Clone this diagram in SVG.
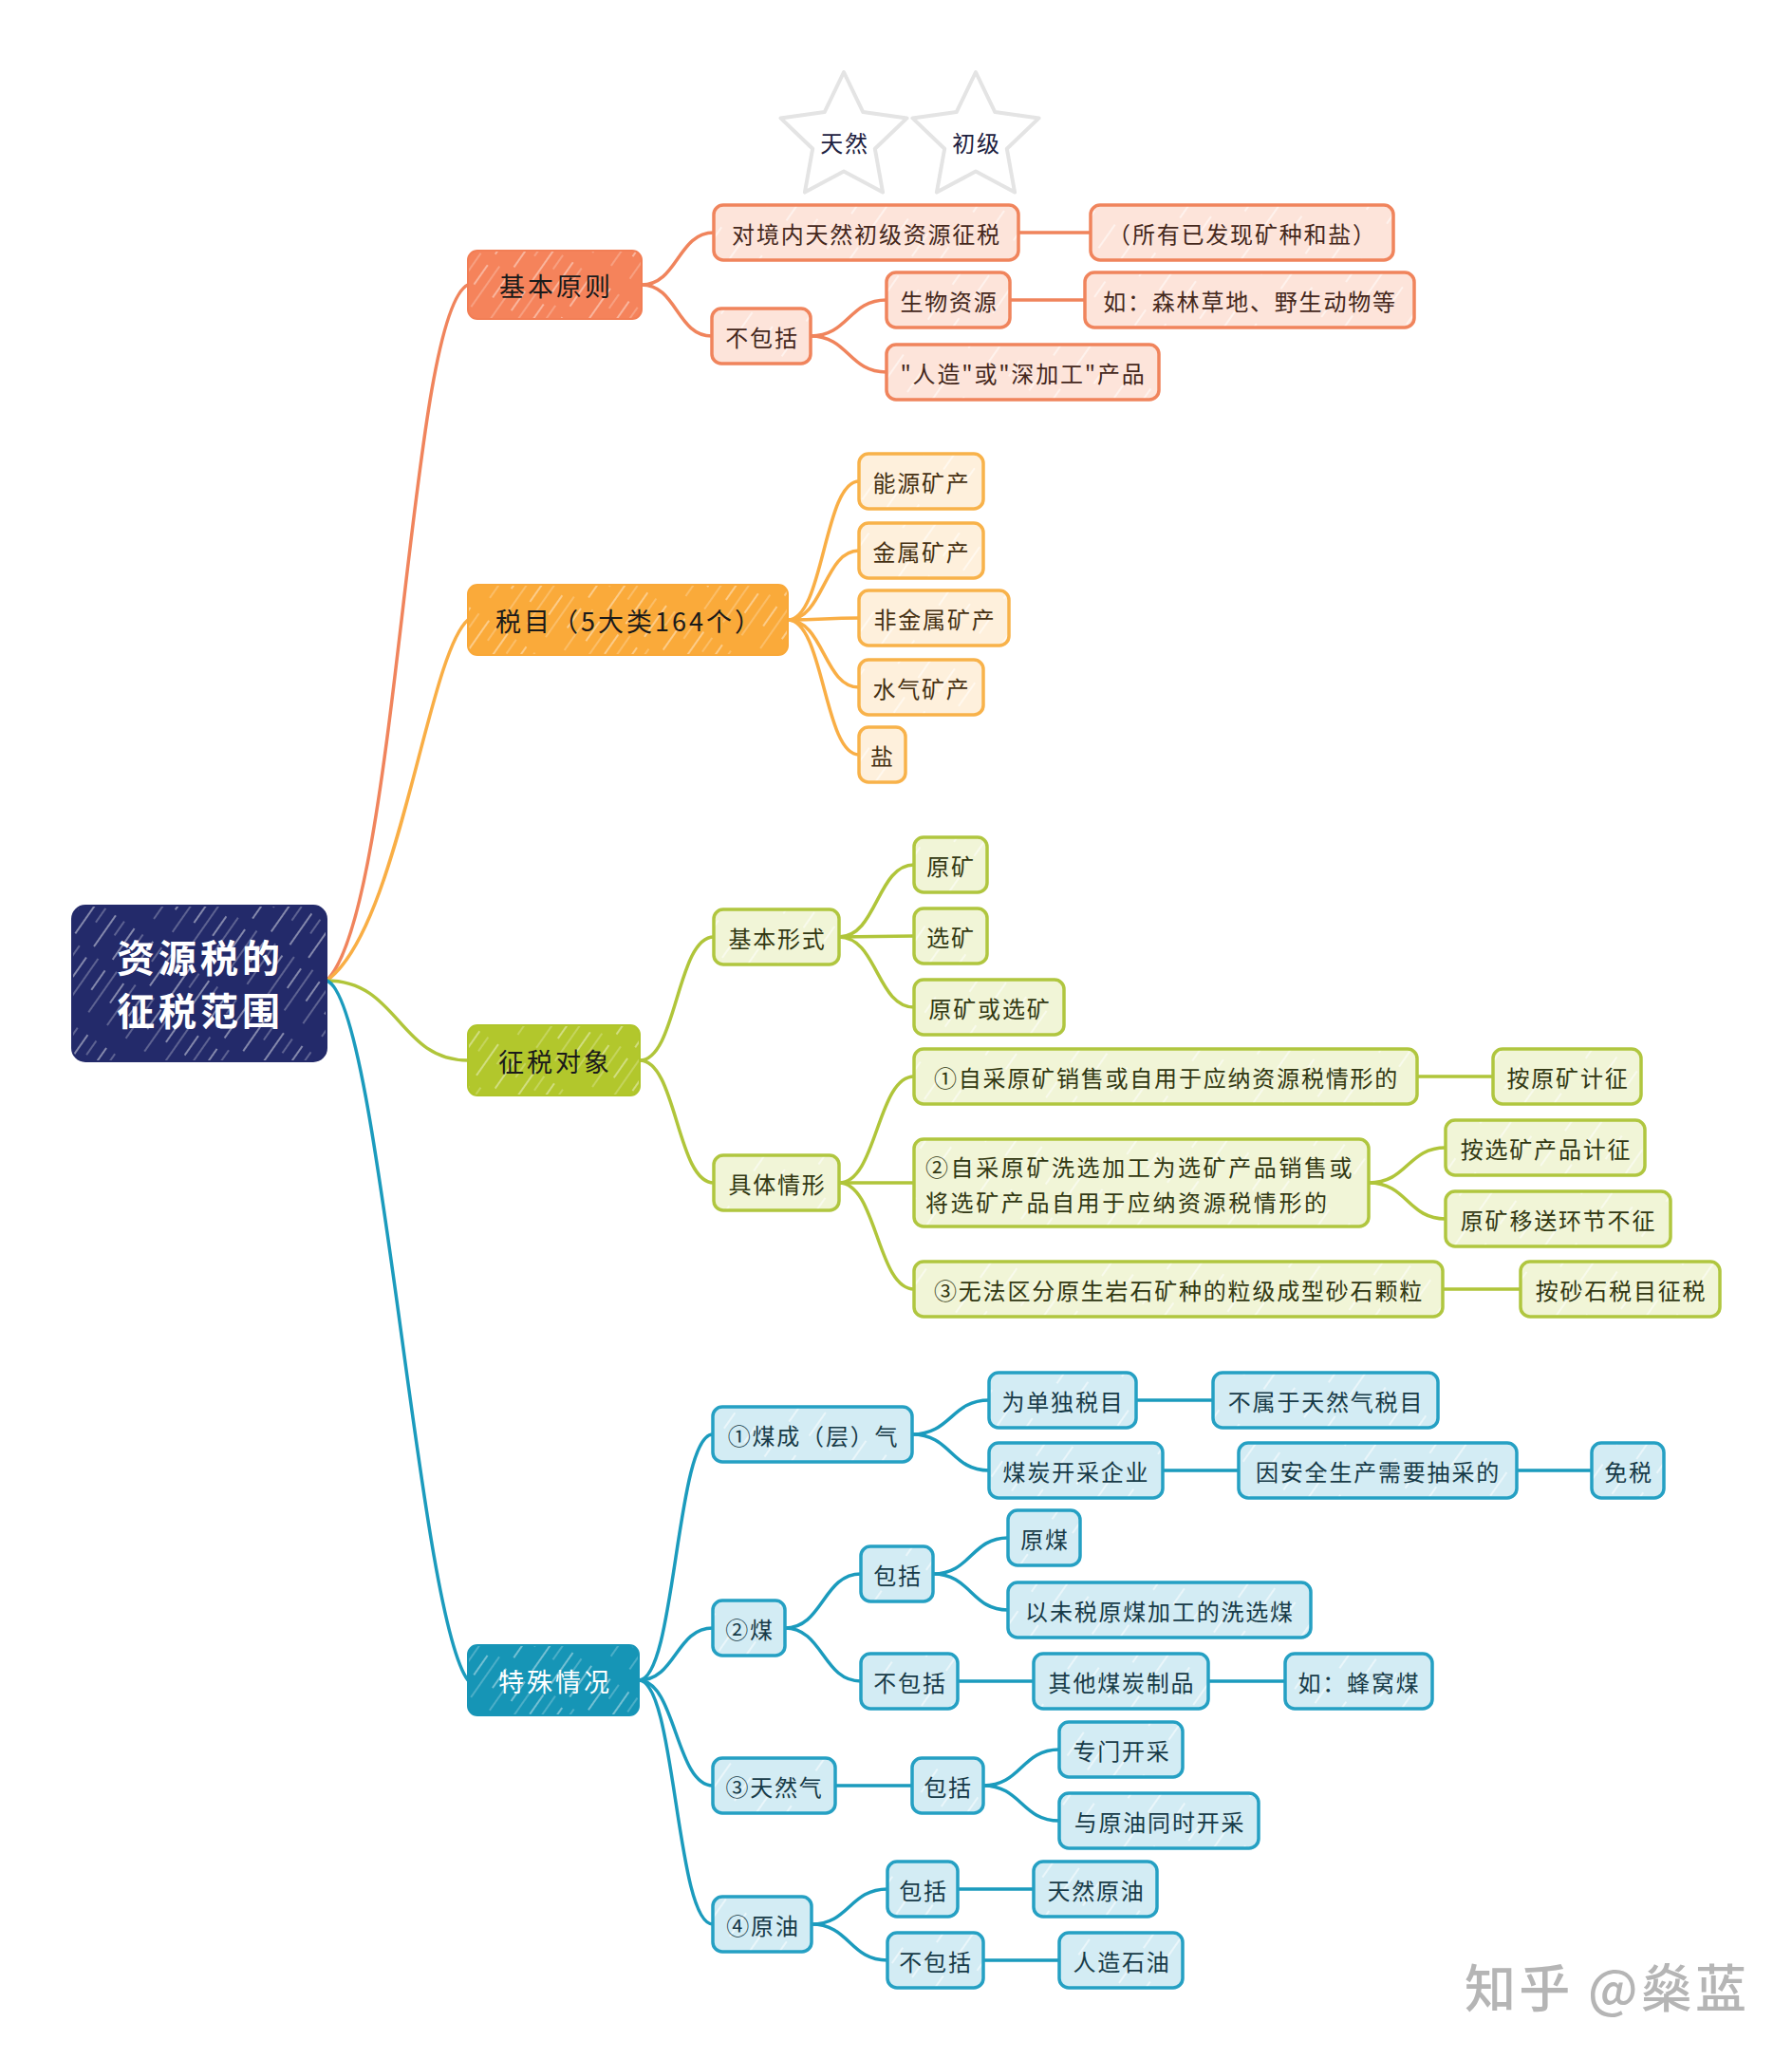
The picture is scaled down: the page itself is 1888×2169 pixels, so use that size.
<svg xmlns="http://www.w3.org/2000/svg" width="1888" height="2169" viewBox="0 0 1888 2169">
<defs>
<style>
.t{font-family:"Noto Sans CJK SC","Noto Sans",sans-serif;font-size:24px;letter-spacing:1.8px;text-anchor:middle;dominant-baseline:central}
.tl{text-anchor:start}
.tm{font-size:27px;letter-spacing:3px;fill:#1a1a1a}
.tr{font-size:40px;font-weight:700;letter-spacing:4px;fill:#ffffff}
.b{stroke-width:3.5}
.m .b{stroke-width:2}
.red .b{fill:url(#p-sred);stroke:#F0845C}
.red text{fill:#45281c}
.org .b{fill:url(#p-sorg);stroke:#F8B24A}
.org text{fill:#463112}
.grn .b{fill:url(#p-sgrn);stroke:#B0C63F}
.grn text{fill:#323812}
.tea .b{fill:url(#p-stea);stroke:#25A0C3}
.tea text{fill:#173b48}
.m.red .b{fill:url(#p-mred);stroke:#F27E55}
.m.org .b{fill:url(#p-morg);stroke:#F9A838}
.m.grn .b{fill:url(#p-mgrn);stroke:#AFC52A}
.m.tea .b{fill:url(#p-mtea);stroke:#1795B7}
.m.tea text{fill:#ffffff}
.m.red text,.m.org text,.m.grn text{fill:#1a1a1a}
.c path{fill:none;stroke-width:3.5;stroke-linecap:round}
.c .cr{stroke:#F0845C}
.c .co{stroke:#F9AE45}
.c .cg{stroke:#B0C53A}
.c .ct{stroke:#1B9BBD}
.star{fill:#ffffff;stroke:#E4E4E4;stroke-width:4;stroke-linejoin:round}
.st{fill:#1d2140}
.wm{font-family:"Noto Sans CJK SC","Noto Sans",sans-serif;font-size:54px;font-weight:500;fill:#B5B5B5;dominant-baseline:central}
</style>
<pattern id="p-root" width="24" height="120" patternUnits="userSpaceOnUse" patternTransform="rotate(35)">
<rect width="24" height="120" fill="#232A6A"/>
<line x1="5" y1="0" x2="5" y2="120" stroke="#fff" stroke-opacity=".55" stroke-width="1.6" stroke-dasharray="40 14 25 41"/>
<line x1="16" y1="0" x2="16" y2="120" stroke="#fff" stroke-opacity=".4" stroke-width="1.3" stroke-dasharray="18 30 52 20"/>
</pattern>
<pattern id="p-mred" width="24" height="120" patternUnits="userSpaceOnUse" patternTransform="rotate(35)">
<rect width="24" height="120" fill="#F5835B"/>
<line x1="5" y1="0" x2="5" y2="120" stroke="#fff" stroke-opacity=".5" stroke-width="1.6" stroke-dasharray="40 14 25 41"/>
<line x1="16" y1="0" x2="16" y2="120" stroke="#fff" stroke-opacity=".35" stroke-width="1.3" stroke-dasharray="18 30 52 20"/>
</pattern>
<pattern id="p-morg" width="24" height="120" patternUnits="userSpaceOnUse" patternTransform="rotate(35)">
<rect width="24" height="120" fill="#FAAA3A"/>
<line x1="5" y1="0" x2="5" y2="120" stroke="#fff" stroke-opacity=".5" stroke-width="1.6" stroke-dasharray="40 14 25 41"/>
<line x1="16" y1="0" x2="16" y2="120" stroke="#fff" stroke-opacity=".35" stroke-width="1.3" stroke-dasharray="18 30 52 20"/>
</pattern>
<pattern id="p-mgrn" width="24" height="120" patternUnits="userSpaceOnUse" patternTransform="rotate(35)">
<rect width="24" height="120" fill="#B2C72C"/>
<line x1="5" y1="0" x2="5" y2="120" stroke="#fff" stroke-opacity=".5" stroke-width="1.6" stroke-dasharray="40 14 25 41"/>
<line x1="16" y1="0" x2="16" y2="120" stroke="#fff" stroke-opacity=".35" stroke-width="1.3" stroke-dasharray="18 30 52 20"/>
</pattern>
<pattern id="p-mtea" width="24" height="120" patternUnits="userSpaceOnUse" patternTransform="rotate(35)">
<rect width="24" height="120" fill="#1695B6"/>
<line x1="5" y1="0" x2="5" y2="120" stroke="#fff" stroke-opacity=".5" stroke-width="1.6" stroke-dasharray="40 14 25 41"/>
<line x1="16" y1="0" x2="16" y2="120" stroke="#fff" stroke-opacity=".35" stroke-width="1.3" stroke-dasharray="18 30 52 20"/>
</pattern>
<pattern id="p-sred" width="26" height="120" patternUnits="userSpaceOnUse" patternTransform="rotate(35)">
<rect width="26" height="120" fill="#FDE4DA"/>
<line x1="6" y1="0" x2="6" y2="120" stroke="#fff" stroke-opacity=".8" stroke-width="1.3" stroke-dasharray="30 25 20 45"/>
</pattern>
<pattern id="p-sorg" width="26" height="120" patternUnits="userSpaceOnUse" patternTransform="rotate(35)">
<rect width="26" height="120" fill="#FEF0DC"/>
<line x1="6" y1="0" x2="6" y2="120" stroke="#fff" stroke-opacity=".8" stroke-width="1.3" stroke-dasharray="30 25 20 45"/>
</pattern>
<pattern id="p-sgrn" width="26" height="120" patternUnits="userSpaceOnUse" patternTransform="rotate(35)">
<rect width="26" height="120" fill="#F1F5D7"/>
<line x1="6" y1="0" x2="6" y2="120" stroke="#fff" stroke-opacity=".8" stroke-width="1.3" stroke-dasharray="30 25 20 45"/>
</pattern>
<pattern id="p-stea" width="26" height="120" patternUnits="userSpaceOnUse" patternTransform="rotate(35)">
<rect width="26" height="120" fill="#D3ECF4"/>
<line x1="6" y1="0" x2="6" y2="120" stroke="#fff" stroke-opacity=".8" stroke-width="1.3" stroke-dasharray="30 25 20 45"/>
</pattern>
<polygon id="starShape" class="star" points="0,-70 20.3,-27.9 66.6,-21.6 32.8,10.7 41.1,56.6 0,34.5 -41.1,56.6 -32.8,10.7 -66.6,-21.6 -20.3,-27.9"/>
</defs>
<rect width="1888" height="2169" fill="#ffffff"/>

<g id="connectors" class="c">
<path class="cr" d="M344 1033 C420 960, 430 330, 493 300"/>
<path class="co" d="M344 1033 C420 980, 450 690, 493 653"/>
<path class="cg" d="M344 1033 C420 1033, 420 1117, 493 1117"/>
<path class="ct" d="M344 1033 C400 1050, 440 1700, 493 1770"/>

<path class="cr" d="M676 300 C714 300, 714 245, 752 245"/>
<path class="cr" d="M676 300 C713 300, 713 354, 750 354"/>
<path class="cr" d="M1073 245 L1149 245"/>
<path class="cr" d="M854 354 C894 354, 894 316, 934 316"/>
<path class="cr" d="M854 354 C894 354, 894 392, 934 392"/>
<path class="cr" d="M1064 316 L1143 316"/>

<path class="co" d="M830 653 C868 653, 868 507, 905 507"/>
<path class="co" d="M830 653 C868 653, 868 580, 905 580"/>
<path class="co" d="M830 653 C868 653, 868 651, 905 651"/>
<path class="co" d="M830 653 C868 653, 868 724, 905 724"/>
<path class="co" d="M830 653 C868 653, 868 795, 905 795"/>

<path class="cg" d="M674 1117 C713 1117, 713 987, 752 987"/>
<path class="cg" d="M674 1117 C713 1117, 713 1246, 752 1246"/>
<path class="cg" d="M884 987 C924 987, 924 911, 963 911"/>
<path class="cg" d="M884 987 L963 986"/>
<path class="cg" d="M884 987 C924 987, 924 1061, 963 1061"/>
<path class="cg" d="M884 1246 C924 1246, 924 1134, 963 1134"/>
<path class="cg" d="M884 1246 L963 1246"/>
<path class="cg" d="M884 1246 C924 1246, 924 1358, 963 1358"/>
<path class="cg" d="M1493 1134 L1573 1134"/>
<path class="cg" d="M1442 1246 C1483 1246, 1483 1209, 1523 1209"/>
<path class="cg" d="M1442 1246 C1483 1246, 1483 1284, 1523 1284"/>
<path class="cg" d="M1520 1358 L1602 1358"/>

<path class="ct" d="M673 1770 C712 1770, 712 1511, 751 1511"/>
<path class="ct" d="M673 1770 C712 1770, 712 1715, 751 1715"/>
<path class="ct" d="M673 1770 C712 1770, 712 1881, 751 1881"/>
<path class="ct" d="M673 1770 C712 1770, 712 2027, 751 2027"/>
<path class="ct" d="M961 1511 C1002 1511, 1002 1475, 1042 1475"/>
<path class="ct" d="M961 1511 C1002 1511, 1002 1549, 1042 1549"/>
<path class="ct" d="M1197 1475 L1278 1475"/>
<path class="ct" d="M1225 1549 L1305 1549"/>
<path class="ct" d="M1598 1549 L1677 1549"/>
<path class="ct" d="M827 1715 C867 1715, 867 1658, 907 1658"/>
<path class="ct" d="M827 1715 C867 1715, 867 1771, 907 1771"/>
<path class="ct" d="M983 1658 C1023 1658, 1023 1620, 1062 1620"/>
<path class="ct" d="M983 1658 C1023 1658, 1023 1696, 1062 1696"/>
<path class="ct" d="M1009 1771 L1089 1771"/>
<path class="ct" d="M1273 1771 L1354 1771"/>
<path class="ct" d="M880 1881 L961 1881"/>
<path class="ct" d="M1036 1881 C1076 1881, 1076 1843, 1116 1843"/>
<path class="ct" d="M1036 1881 C1076 1881, 1076 1918, 1116 1918"/>
<path class="ct" d="M855 2027 C895 2027, 895 1990, 935 1990"/>
<path class="ct" d="M855 2027 C895 2027, 895 2065, 935 2065"/>
<path class="ct" d="M1009 1990 L1089 1990"/>
<path class="ct" d="M1036 2065 L1116 2065"/>
</g>

<g id="star-tianran"><use href="#starShape" transform="translate(889 146)"/><text class="t st" x="890" y="149">天然</text></g>
<g id="star-chuji"><use href="#starShape" transform="translate(1028 146)"/><text class="t st" x="1029" y="149">初级</text></g>

<g id="root"><rect x="76" y="954" width="268" height="164" rx="14" fill="url(#p-root)" stroke="#232A6A" stroke-width="2"/><text class="t tr" x="211" y="1007">资源税的</text><text class="t tr" x="211" y="1063">征税范围</text></g>

<g id="main-jbyz" class="m red"><rect class="b" x="493" y="264" width="183" height="72" rx="10"/><text class="t tm" x="586" y="300">基本原则</text></g>
<g id="main-shuimu" class="m org"><rect class="b" x="493" y="616" width="337" height="74" rx="10"/><text class="t tm" x="663" y="653">税目（5大类164个）</text></g>
<g id="main-zsdx" class="m grn"><rect class="b" x="493" y="1080" width="181" height="74" rx="10"/><text class="t tm" x="585" y="1117">征税对象</text></g>
<g id="main-tsqk" class="m tea"><rect class="b" x="493" y="1733" width="180" height="74" rx="10"/><text class="t tm" x="585" y="1770">特殊情况</text></g>

<g id="r1" class="red"><rect class="b" x="752" y="216" width="321" height="58" rx="10"/><text class="t" x="913" y="245">对境内天然初级资源征税</text></g>
<g id="r2" class="red"><rect class="b" x="1149" y="216" width="319" height="58" rx="10"/><text class="t" x="1309" y="245">（所有已发现矿种和盐）</text></g>
<g id="r3" class="red"><rect class="b" x="750" y="325" width="104" height="58" rx="10"/><text class="t" x="803" y="354">不包括</text></g>
<g id="r4" class="red"><rect class="b" x="934" y="287" width="130" height="58" rx="10"/><text class="t" x="1000" y="316">生物资源</text></g>
<g id="r5" class="red"><rect class="b" x="1143" y="287" width="347" height="58" rx="10"/><text class="t" x="1317" y="316">如：森林草地、野生动物等</text></g>
<g id="r6" class="red"><rect class="b" x="934" y="363" width="287" height="58" rx="10"/><text class="t" x="1078" y="392">"人造"或"深加工"产品</text></g>

<g id="o1" class="org"><rect class="b" x="905" y="478" width="131" height="58" rx="10"/><text class="t" x="971" y="507">能源矿产</text></g>
<g id="o2" class="org"><rect class="b" x="905" y="551" width="131" height="58" rx="10"/><text class="t" x="971" y="580">金属矿产</text></g>
<g id="o3" class="org"><rect class="b" x="905" y="622" width="158" height="58" rx="10"/><text class="t" x="985" y="651">非金属矿产</text></g>
<g id="o4" class="org"><rect class="b" x="905" y="695" width="131" height="58" rx="10"/><text class="t" x="971" y="724">水气矿产</text></g>
<g id="o5" class="org"><rect class="b" x="905" y="766" width="49" height="58" rx="10"/><text class="t" x="930" y="795">盐</text></g>

<g id="g1" class="grn"><rect class="b" x="752" y="958" width="132" height="58" rx="10"/><text class="t" x="819" y="987">基本形式</text></g>
<g id="g2" class="grn"><rect class="b" x="963" y="882" width="77" height="58" rx="10"/><text class="t" x="1002" y="911">原矿</text></g>
<g id="g3" class="grn"><rect class="b" x="963" y="957" width="77" height="58" rx="10"/><text class="t" x="1002" y="986">选矿</text></g>
<g id="g4" class="grn"><rect class="b" x="963" y="1032" width="158" height="58" rx="10"/><text class="t" x="1043" y="1061">原矿或选矿</text></g>
<g id="g5" class="grn"><rect class="b" x="752" y="1217" width="132" height="58" rx="10"/><text class="t" x="819" y="1246">具体情形</text></g>
<g id="g6" class="grn"><rect class="b" x="963" y="1105" width="530" height="58" rx="10"/><text class="t" x="1229" y="1134">①自采原矿销售或自用于应纳资源税情形的</text></g>
<g id="g7" class="grn"><rect class="b" x="1573" y="1105" width="156" height="58" rx="10"/><text class="t" x="1652" y="1134">按原矿计征</text></g>
<g id="g8" class="grn"><rect class="b" x="963" y="1200" width="479" height="92" rx="10"/><text class="t tl" x="975" y="1228" style="letter-spacing:2.6px">②自采原矿洗选加工为选矿产品销售或</text><text class="t tl" x="975" y="1265" style="letter-spacing:2.6px">将选矿产品自用于应纳资源税情形的</text></g>
<g id="g9" class="grn"><rect class="b" x="1523" y="1180" width="210" height="58" rx="10"/><text class="t" x="1629" y="1209">按选矿产品计征</text></g>
<g id="g10" class="grn"><rect class="b" x="1523" y="1255" width="237" height="58" rx="10"/><text class="t" x="1642" y="1284">原矿移送环节不征</text></g>
<g id="g11" class="grn"><rect class="b" x="963" y="1329" width="557" height="58" rx="10"/><text class="t" x="1242" y="1358">③无法区分原生岩石矿种的粒级成型砂石颗粒</text></g>
<g id="g12" class="grn"><rect class="b" x="1602" y="1329" width="210" height="58" rx="10"/><text class="t" x="1708" y="1358">按砂石税目征税</text></g>

<g id="t1" class="tea"><rect class="b" x="751" y="1482" width="210" height="58" rx="10"/><text class="t" x="857" y="1511">①煤成（层）气</text></g>
<g id="t2" class="tea"><rect class="b" x="1042" y="1446" width="155" height="58" rx="10"/><text class="t" x="1120" y="1475">为单独税目</text></g>
<g id="t3" class="tea"><rect class="b" x="1278" y="1446" width="237" height="58" rx="10"/><text class="t" x="1397" y="1475">不属于天然气税目</text></g>
<g id="t4" class="tea"><rect class="b" x="1042" y="1520" width="183" height="58" rx="10"/><text class="t" x="1134" y="1549">煤炭开采企业</text></g>
<g id="t5" class="tea"><rect class="b" x="1305" y="1520" width="293" height="58" rx="10"/><text class="t" x="1452" y="1549">因安全生产需要抽采的</text></g>
<g id="t6" class="tea"><rect class="b" x="1677" y="1520" width="76" height="58" rx="10"/><text class="t" x="1716" y="1549">免税</text></g>
<g id="t7" class="tea"><rect class="b" x="751" y="1686" width="76" height="58" rx="10"/><text class="t" x="790" y="1715">②煤</text></g>
<g id="t8" class="tea"><rect class="b" x="907" y="1629" width="76" height="58" rx="10"/><text class="t" x="946" y="1658">包括</text></g>
<g id="t9" class="tea"><rect class="b" x="1062" y="1591" width="76" height="58" rx="10"/><text class="t" x="1101" y="1620">原煤</text></g>
<g id="t10" class="tea"><rect class="b" x="1062" y="1667" width="319" height="58" rx="10"/><text class="t" x="1222" y="1696">以未税原煤加工的洗选煤</text></g>
<g id="t11" class="tea"><rect class="b" x="907" y="1742" width="102" height="58" rx="10"/><text class="t" x="959" y="1771">不包括</text></g>
<g id="t12" class="tea"><rect class="b" x="1089" y="1742" width="184" height="58" rx="10"/><text class="t" x="1182" y="1771">其他煤炭制品</text></g>
<g id="t13" class="tea"><rect class="b" x="1354" y="1742" width="155" height="58" rx="10"/><text class="t" x="1432" y="1771">如：蜂窝煤</text></g>
<g id="t14" class="tea"><rect class="b" x="751" y="1852" width="129" height="58" rx="10"/><text class="t" x="816" y="1881">③天然气</text></g>
<g id="t15" class="tea"><rect class="b" x="961" y="1852" width="75" height="58" rx="10"/><text class="t" x="999" y="1881">包括</text></g>
<g id="t16" class="tea"><rect class="b" x="1116" y="1814" width="130" height="58" rx="10"/><text class="t" x="1182" y="1843">专门开采</text></g>
<g id="t17" class="tea"><rect class="b" x="1116" y="1889" width="210" height="58" rx="10"/><text class="t" x="1222" y="1918">与原油同时开采</text></g>
<g id="t18" class="tea"><rect class="b" x="751" y="1998" width="104" height="58" rx="10"/><text class="t" x="804" y="2027">④原油</text></g>
<g id="t19" class="tea"><rect class="b" x="935" y="1961" width="74" height="58" rx="10"/><text class="t" x="973" y="1990">包括</text></g>
<g id="t20" class="tea"><rect class="b" x="1089" y="1961" width="130" height="58" rx="10"/><text class="t" x="1155" y="1990">天然原油</text></g>
<g id="t21" class="tea"><rect class="b" x="935" y="2036" width="101" height="58" rx="10"/><text class="t" x="986" y="2065">不包括</text></g>
<g id="t22" class="tea"><rect class="b" x="1116" y="2036" width="130" height="58" rx="10"/><text class="t" x="1182" y="2065">人造石油</text></g>

<text class="wm" x="1543" y="2091" textLength="297" lengthAdjust="spacing">知乎 @燊蓝</text>
</svg>
